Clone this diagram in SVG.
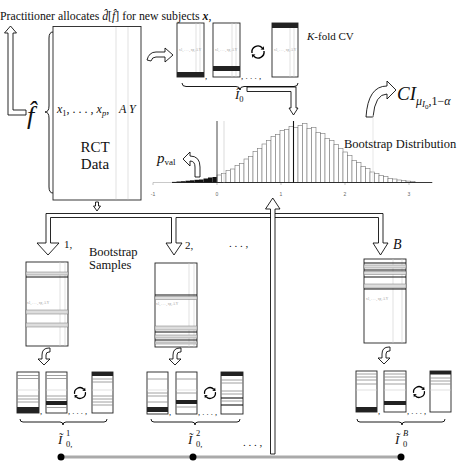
<svg xmlns="http://www.w3.org/2000/svg" width="474" height="474" viewBox="0 0 474 474">
<style>
text{font-family:"Liberation Serif","DejaVu Serif",serif;fill:#111}
.it{font-style:italic}
.l{stroke:#000;fill:none;stroke-width:0.9}
.h{fill:#fff;stroke:#000;stroke-width:0.85;stroke-linejoin:miter}
.r{fill:#fff;stroke:#222;stroke-width:0.9}
.lv{stroke:#ccc;stroke-width:0.6}
.g{stroke:#888;stroke-width:0.8}
.k{stroke:#111;stroke-width:1.1}
.band{fill:#ddd;stroke:#777;stroke-width:0.5}
.blk{fill:#222}
.bar{fill:#fff;stroke:#777;stroke-width:0.6}
.tiny{font-size:3.4px;fill:#999}
.ax{font-size:5px;fill:#666;font-family:"Liberation Sans",sans-serif}
</style>
<defs>
<g id="cyc">
<path d="M-6,1 A6,6 0 0 1 4.2,-4.2" fill="none" stroke="#000" stroke-width="1.4"/>
<path d="M6,-1 A6,6 0 0 1 -4.2,4.2" fill="none" stroke="#000" stroke-width="1.4"/>
<polygon points="6.2,-2.3 5.7,-5.8 2.6,-2.6" fill="#000"/>
<polygon points="-6.2,2.3 -5.7,5.8 -2.6,2.6" fill="#000"/>
</g>
<path id="hook" class="h" d="M0,0 L6,-6 L2,-6 L2,-10 Q2,-13 5,-13 L6,-13 L6,-17 L5,-17 Q-2,-17 -2,-10 L-2,-6 L-6,-6 Z"/>
</defs>

<!-- title -->
<text x="0" y="20" font-size="11.8">Practitioner allocates <tspan class="it">d̂</tspan>[<tspan class="it">f̂</tspan>] for new subjects <tspan class="it" font-weight="bold">x</tspan>,</text>

<g id="feedback">
<path class="h" d="M10.5,26 L16.5,33 L13,33 L13,110 L26,110 L26,115 L8,115 L8,33 L4.5,33 Z"/>
<text x="27" y="124" font-size="26" class="it">f̂</text>
</g>

<g id="rct">
<path class="l" d="M53,32 Q49,32 49,38 L49,106 Q49,112 45,112 Q49,112 49,118 L49,187 Q49,193 53,193"/>
<rect class="r" x="53" y="26.5" width="88" height="173.5"/>
<line class="lv" x1="116" y1="27" x2="116" y2="199.5"/>
<line class="lv" x1="128" y1="27" x2="128" y2="199.5"/>
<text x="57" y="113" font-size="12"><tspan class="it">x</tspan><tspan font-size="8.5" dy="2.5">1</tspan><tspan dy="-2.5">, . . . , </tspan><tspan class="it">x</tspan><tspan class="it" font-size="8.5" dy="2.5">p</tspan><tspan dy="-2.5">, </tspan><tspan class="it" x="119">A</tspan><tspan class="it" x="129">Y</tspan></text>
<text x="95" y="152" font-size="15" text-anchor="middle">RCT</text>
<text x="95" y="169" font-size="15" text-anchor="middle">Data</text>
</g>

<g id="kfold">
<path class="h" d="M173,55 L165,48 L165,52 L156,52 Q149,52 147,60 L151,61 Q152,57 156,57 L165,57 L165,62 Z"/>
<rect class="r" x="177" y="23" width="27" height="54"/>
<line class="lv" x1="196" y1="23" x2="196" y2="77"/><line class="lv" x1="200" y1="23" x2="200" y2="77"/>
<rect class="blk" x="177" y="72" width="27" height="5"/>
<text class="tiny" x="179" y="51">x1, . . . , xp, A Y</text>
<rect class="r" x="213" y="23" width="27" height="54"/>
<line class="lv" x1="232" y1="23" x2="232" y2="77"/><line class="lv" x1="236" y1="23" x2="236" y2="77"/>
<rect class="blk" x="213" y="66" width="27" height="5"/>
<text class="tiny" x="215" y="51">x1, . . . , xp, A Y</text>
<use href="#cyc" transform="translate(258,52)"/>
<rect class="r" x="272" y="23" width="26" height="54"/>
<line class="lv" x1="290" y1="23" x2="290" y2="77"/><line class="lv" x1="294" y1="23" x2="294" y2="77"/>
<rect class="blk" x="272" y="23" width="26" height="5"/>
<text class="tiny" x="274" y="51">x1, . . . , xp, A Y</text>
<text x="205" y="79" font-size="9">,</text>
<text x="241" y="79" font-size="9">, . . . ,</text>
<text x="307" y="40" font-size="11"><tspan class="it">K</tspan>-fold CV</text>
<path class="l" d="M182,83 Q182,86.5 186,86.5 L236,86.5 Q240,86.5 240,90 Q240,86.5 244,86.5 L294,86.5 Q298,86.5 298,83"/>
<text x="235" y="99" font-size="13" class="it">Î<tspan font-size="8.5" dy="2.5" font-style="normal">0</tspan></text>
<path class="h" d="M247,87 L296,87 L296,108 L298,108 L293.5,115 L289,108 L291,108 L291,91.5 L247,91.5 Z"/>
</g>

<g id="ci">
<path class="h" d="M396,90 L387,81 L387,86 Q368,86 366,117 L373,117 Q375,94 387,94 L387,99 Z"/>
<text x="397" y="100" font-size="19" class="it">CI<tspan font-size="12" dy="5">μ</tspan><tspan font-size="9" dy="2">I</tspan><tspan font-size="7" dy="1.5" font-style="normal">0</tspan><tspan font-size="12" dy="-3.5" font-style="normal">,1−</tspan><tspan font-size="12">α</tspan></text>
</g>

<g id="histogram">
<line x1="153" y1="182.5" x2="433" y2="182.5" stroke="#bbb" stroke-width="0.8"/>
<g stroke="#999" stroke-width="0.6"><line x1="153" y1="182.5" x2="153" y2="185"/><line x1="217" y1="182.5" x2="217" y2="185"/><line x1="281" y1="182.5" x2="281" y2="185"/><line x1="345" y1="182.5" x2="345" y2="185"/><line x1="409" y1="182.5" x2="409" y2="185"/></g>
<text class="ax" x="153" y="196" text-anchor="middle">-1</text>
<text class="ax" x="217" y="196" text-anchor="middle">0</text>
<text class="ax" x="281" y="196" text-anchor="middle">1</text>
<text class="ax" x="345" y="196" text-anchor="middle">2</text>
<text class="ax" x="409" y="196" text-anchor="middle">3</text>
<g fill="#111">
<rect x="212.5" y="177" width="4.5" height="5.5"/><rect x="208" y="177.5" width="4.5" height="5"/><rect x="203.5" y="178.5" width="4.5" height="4"/><rect x="199" y="179.5" width="4.5" height="3"/><rect x="194.5" y="179.8" width="4.5" height="2.7"/><rect x="190" y="180.3" width="4.5" height="2.2"/><rect x="185.5" y="180.7" width="4.5" height="1.8"/><rect x="181" y="181.2" width="4.5" height="1.3"/><rect x="176.5" y="181.5" width="4.5" height="1"/><rect x="172" y="181.9" width="4.5" height="0.6"/>
</g>
<g class="bar">
<rect x="217" y="175" width="4.5" height="7.5"/><rect x="221.5" y="173.5" width="4.5" height="9"/><rect x="226" y="170.5" width="4.5" height="12"/><rect x="230.5" y="169" width="4.5" height="13.5"/><rect x="235" y="165.5" width="4.5" height="17"/><rect x="239.5" y="163.5" width="4.5" height="19"/><rect x="244" y="159" width="4.5" height="23.5"/><rect x="248.5" y="156.5" width="4.5" height="26"/><rect x="253" y="151.5" width="4.5" height="31"/><rect x="257.5" y="148.5" width="4.5" height="34"/><rect x="262" y="144" width="4.5" height="38.5"/><rect x="266.5" y="140.5" width="4.5" height="42"/><rect x="271" y="136.5" width="4.5" height="46"/><rect x="275.5" y="134.5" width="4.5" height="48"/><rect x="280" y="130.5" width="4.5" height="52"/><rect x="284.5" y="129.5" width="4.5" height="53"/><rect x="289" y="126.5" width="4.5" height="56"/><rect x="293.5" y="127.5" width="4.5" height="55"/><rect x="298" y="125.5" width="4.5" height="57"/><rect x="302.5" y="123.5" width="4.5" height="59"/><rect x="307" y="128.5" width="4.5" height="54"/><rect x="311.5" y="127.5" width="4.5" height="55"/><rect x="316" y="132.5" width="4.5" height="50"/><rect x="320.5" y="133.5" width="4.5" height="49"/><rect x="325" y="138.5" width="4.5" height="44"/><rect x="329.5" y="140.5" width="4.5" height="42"/><rect x="334" y="144.5" width="4.5" height="38"/><rect x="338.5" y="148.5" width="4.5" height="34"/><rect x="343" y="152" width="4.5" height="30.5"/><rect x="347.5" y="155.5" width="4.5" height="27"/><rect x="352" y="160.5" width="4.5" height="22"/><rect x="356.5" y="162.5" width="4.5" height="20"/><rect x="361" y="166.5" width="4.5" height="16"/><rect x="365.5" y="168.5" width="4.5" height="14"/><rect x="370" y="172" width="4.5" height="10.5"/><rect x="374.5" y="173.5" width="4.5" height="9"/><rect x="379" y="175.5" width="4.5" height="7"/><rect x="383.5" y="176.5" width="4.5" height="6"/><rect x="388" y="178.5" width="4.5" height="4"/><rect x="392.5" y="179" width="4.5" height="3.5"/><rect x="397" y="180" width="4.5" height="2.5"/><rect x="401.5" y="180.5" width="4.5" height="2"/><rect x="406" y="181.1" width="4.5" height="1.4"/><rect x="410.5" y="181.5" width="4.5" height="1"/>
</g>
<line x1="172" y1="182.5" x2="432" y2="182.5" stroke="#111" stroke-width="0.8"/>
<line x1="224" y1="121" x2="224" y2="182.5" stroke="#ccc" stroke-width="0.7"/>
<line x1="373" y1="115" x2="373" y2="182.5" stroke="#ddd" stroke-width="0.7"/>
<line x1="217" y1="121" x2="217" y2="182.5" stroke="#333" stroke-width="0.9"/>
<line x1="293.5" y1="121" x2="293.5" y2="182.5" stroke="#111" stroke-width="1.1"/>
<text x="344" y="148" font-size="12.5">Bootstrap Distribution</text>
<text x="157" y="163" font-size="15" class="it">p<tspan font-size="9" dy="2" font-style="normal">val</tspan></text>
<path class="h" d="M183,159 L190,152 L190,156 Q200,156 200,167 L200,177 L195,177 L195,167 Q195,161 190,161 L190,166 Z"/>
</g>

<g id="connectors">
<path class="h" d="M95.5,202 L98.5,202 L98.5,206 L100.5,206 L97,211 L93.5,206 L95.5,206 Z"/>
<path class="h" d="M46,243 L46,213.5 L383,213.5 L383,243 L388,243 L380.5,255 L373,243 L378.5,243 L378.5,217.5 L176,217.5 L176,243 L182,243 L174,255 L166,243 L171.5,243 L171.5,217.5 L50.5,217.5 L50.5,243 L59,243 L48,255 L37,243 Z"/>
<path class="h" d="M272.75,198 L280,209 L275,209 L275,454 L270.5,454 L270.5,209 L265.5,209 Z"/>
<line x1="61" y1="457" x2="401" y2="457" stroke="#aaa" stroke-width="3"/>
<circle cx="61" cy="457" r="3.5" fill="#000"/>
<circle cx="193" cy="457" r="3.5" fill="#000"/>
<circle cx="401" cy="457" r="3.5" fill="#000"/>
</g>

<text x="64" y="248" font-size="11">1,</text>
<text x="185" y="249" font-size="11">2,</text>
<text x="229" y="247" font-size="11">. . . ,</text>
<text x="393" y="249" font-size="14" class="it">B</text>
<text x="89" y="256" font-size="12.5">Bootstrap</text>
<text x="89" y="269" font-size="12.5">Samples</text>

<g id="sample1">
<rect class="r" x="26" y="262" width="42" height="84"/>
<line class="lv" x1="60" y1="262" x2="60" y2="346"/><line class="lv" x1="65" y1="262" x2="65" y2="346"/>
<rect class="band" x="26" y="272" width="42" height="3"/>
<line class="k" x1="26" y1="277" x2="68" y2="277"/>
<text class="tiny" x="27" y="304">x1, . . . , xp, A Y</text>
<rect class="band" x="26" y="310" width="42" height="4"/>
<rect class="band" x="26" y="323" width="42" height="4"/>
<use href="#hook" transform="translate(44,365)"/>
</g>
<g id="sample2">
<rect class="r" x="155" y="263" width="42" height="84"/>
<line class="lv" x1="189" y1="263" x2="189" y2="347"/><line class="lv" x1="194" y1="263" x2="194" y2="347"/>
<line class="k" x1="155" y1="295" x2="197" y2="295"/>
<rect class="band" x="155" y="296.5" width="42" height="3"/>
<text class="tiny" x="156" y="305">x1, . . . , xp, A Y</text>
<rect class="band" x="155" y="326" width="42" height="4"/>
<line class="k" x1="155" y1="332" x2="197" y2="332"/>
<rect class="band" x="155" y="335" width="42" height="3"/>
<line class="k" x1="155" y1="340" x2="197" y2="340"/>
<rect class="band" x="155" y="342" width="42" height="2"/>
<use href="#hook" transform="translate(175,365)"/>
</g>
<g id="sampleB">
<rect class="r" x="364" y="259" width="42" height="84"/>
<line class="lv" x1="393" y1="259" x2="393" y2="343"/><line class="lv" x1="402" y1="259" x2="402" y2="343"/>
<line class="k" x1="364" y1="263" x2="406" y2="263"/>
<rect class="band" x="364" y="265" width="42" height="3"/>
<line class="k" x1="364" y1="270" x2="406" y2="270"/>
<rect class="band" x="364" y="271.5" width="42" height="3"/>
<line class="k" x1="364" y1="277" x2="406" y2="277"/>
<rect class="band" x="364" y="284" width="42" height="4"/>
<line class="k" x1="364" y1="289" x2="406" y2="289"/>
<text class="tiny" x="366" y="300">x1, . . . , xp, A Y</text>
<use href="#hook" transform="translate(384,364)"/>
</g>

<g id="folds1">
<rect class="r" x="17" y="372" width="22" height="41"/>
<line class="g" x1="17" y1="375.5" x2="39" y2="375.5"/><line class="g" x1="17" y1="378.5" x2="39" y2="378.5"/><line class="lv" x1="17" y1="390" x2="39" y2="390"/><line class="g" x1="17" y1="396" x2="39" y2="396"/><line class="g" x1="17" y1="399" x2="39" y2="399"/><line class="g" x1="17" y1="402" x2="39" y2="402"/>
<rect class="blk" x="17" y="407" width="22" height="6"/>
<rect class="r" x="46" y="372" width="21" height="41"/>
<line class="g" x1="46" y1="375.5" x2="67" y2="375.5"/><line class="g" x1="46" y1="378.5" x2="67" y2="378.5"/><line class="lv" x1="46" y1="390" x2="67" y2="390"/><line class="g" x1="46" y1="396" x2="67" y2="396"/><line class="g" x1="46" y1="399" x2="67" y2="399"/>
<rect class="blk" x="46" y="401" width="21" height="4"/><line class="g" x1="46" y1="407.5" x2="67" y2="407.5"/>
<use href="#cyc" transform="translate(80,393) scale(0.9)"/>
<rect class="r" x="92" y="372" width="21" height="41"/>
<rect class="blk" x="92" y="372" width="21" height="4"/>
<line class="g" x1="92" y1="379" x2="113" y2="379"/><line class="g" x1="92" y1="382" x2="113" y2="382"/><line class="lv" x1="92" y1="390" x2="113" y2="390"/><line class="g" x1="92" y1="396" x2="113" y2="396"/><line class="g" x1="92" y1="399" x2="113" y2="399"/><line class="g" x1="92" y1="402" x2="113" y2="402"/><line class="g" x1="92" y1="405" x2="113" y2="405"/>
<text x="40" y="414" font-size="8.5">,</text>
<text x="68" y="414" font-size="8.5">, . . . ,</text>
<path class="l" d="M20,419 Q20,422 23,422 L60,422 Q63,422 63,425 Q63,422 66,422 L104,422 Q107,422 107,419"/>
<text x="58" y="444" font-size="13" class="it">Ĩ</text>
<text x="66" y="436" font-size="8.5">1</text>
<text x="66" y="447" font-size="8.5">0,</text>
</g>
<g id="folds2">
<rect class="r" x="147" y="372" width="21" height="42"/>
<line class="g" x1="147" y1="379" x2="168" y2="379"/><line class="lv" x1="147" y1="390" x2="168" y2="390"/><line class="g" x1="147" y1="393" x2="168" y2="393"/><line class="g" x1="147" y1="396" x2="168" y2="396"/><line class="g" x1="147" y1="402" x2="168" y2="402"/>
<rect class="blk" x="147" y="407" width="21" height="5"/>
<rect class="r" x="176" y="372" width="21" height="42"/>
<line class="g" x1="176" y1="379" x2="197" y2="379"/><line class="lv" x1="176" y1="390" x2="197" y2="390"/><line class="g" x1="176" y1="393" x2="197" y2="393"/>
<rect class="blk" x="176" y="400" width="21" height="4"/><line class="g" x1="176" y1="407" x2="197" y2="407"/>
<use href="#cyc" transform="translate(210,393) scale(0.9)"/>
<rect class="r" x="221" y="372" width="22" height="42"/>
<rect class="blk" x="221" y="372" width="22" height="4"/>
<line class="g" x1="221" y1="380" x2="243" y2="380"/><line class="g" x1="221" y1="383" x2="243" y2="383"/><line class="g" x1="221" y1="391" x2="243" y2="391"/><line class="g" x1="221" y1="394" x2="243" y2="394"/><line class="k" x1="221" y1="398" x2="243" y2="398"/><line class="g" x1="221" y1="401" x2="243" y2="401"/><line class="k" x1="221" y1="405" x2="243" y2="405"/>
<text x="169" y="415" font-size="8.5">,</text>
<text x="198" y="415" font-size="8.5">, . . . ,</text>
<path class="l" d="M151,419 Q151,422 154,422 L192,422 Q195,422 195,425 Q195,422 198,422 L237,422 Q240,422 240,419"/>
<text x="188" y="444" font-size="13" class="it">Ĩ</text>
<text x="196" y="436" font-size="8.5">2</text>
<text x="196" y="447" font-size="8.5">0,</text>
<text x="243" y="446" font-size="11">. . . ,</text>
</g>
<g id="foldsB">
<rect class="r" x="356" y="371" width="21" height="41"/>
<line class="g" x1="356" y1="374" x2="377" y2="374"/><line class="g" x1="356" y1="377" x2="377" y2="377"/><line class="g" x1="356" y1="380" x2="377" y2="380"/><line class="g" x1="356" y1="384" x2="377" y2="384"/><line class="lv" x1="356" y1="390" x2="377" y2="390"/>
<rect class="blk" x="356" y="407" width="21" height="5"/>
<rect class="r" x="384" y="371" width="22" height="41"/>
<line class="g" x1="384" y1="374" x2="406" y2="374"/><line class="g" x1="384" y1="377" x2="406" y2="377"/><line class="g" x1="384" y1="380" x2="406" y2="380"/><line class="g" x1="384" y1="384" x2="406" y2="384"/><line class="lv" x1="384" y1="390" x2="406" y2="390"/>
<rect class="blk" x="384" y="401" width="22" height="4"/>
<use href="#cyc" transform="translate(419,392) scale(0.9)"/>
<rect class="r" x="430" y="371" width="21" height="41"/>
<rect class="blk" x="430" y="371" width="21" height="3.5"/>
<line class="g" x1="430" y1="378" x2="451" y2="378"/><line class="g" x1="430" y1="381" x2="451" y2="381"/><line class="g" x1="430" y1="384" x2="451" y2="384"/><line class="lv" x1="430" y1="390" x2="451" y2="390"/>
<text x="378" y="414" font-size="8.5">,</text>
<text x="407" y="414" font-size="8.5">, . . . ,</text>
<path class="l" d="M357,419 Q357,422 360,422 L399,422 Q402,422 402,425 Q402,422 405,422 L442,422 Q445,422 445,419"/>
<text x="395" y="444" font-size="13" class="it">Ĩ</text>
<text x="403" y="436" font-size="8.5" class="it">B</text>
<text x="403" y="447" font-size="8.5">0</text>
</g>
</svg>
